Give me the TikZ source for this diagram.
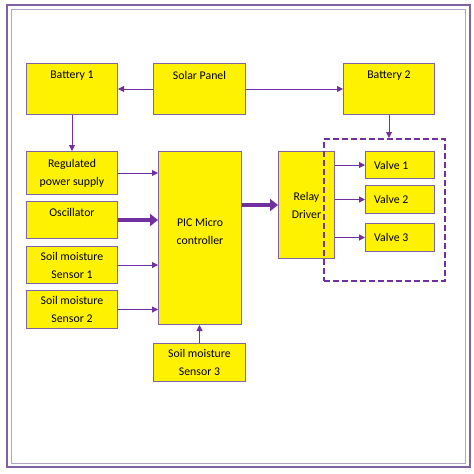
\documentclass[tikz,border=0pt]{standalone}
\usepackage{fontspec}
\setmainfont{Carlito}
\usetikzlibrary{arrows.meta}
\definecolor{boxedge}{HTML}{8064A2}
\definecolor{linepurple}{HTML}{7030A0}
\definecolor{framelight}{HTML}{B3A2C7}

\tikzset{
  blk/.style={draw=boxedge, fill=yellow, line width=1pt, anchor=north west, inner sep=0pt,
    align=center, font=\fontsize{11.8pt}{18pt}\selectfont},
  lbl/.style={inner sep=0pt, font=\fontsize{11.8pt}{18pt}\selectfont},
  con/.style={draw=linepurple, line width=1pt, -{Triangle[length=6pt,width=6pt]}},
  bigcon/.style={draw=linepurple, line width=4.5pt, -{Triangle[length=8pt,width=12pt]}},
  grpbox/.style={draw=linepurple, line width=1.6pt, dash pattern=on 6pt off 3pt, anchor=north west, inner sep=0pt},
}

\begin{document}
\begin{tikzpicture}[x=1pt,y=-1pt]
    \useasboundingbox (0,0) rectangle (474,474);
    %frame
    \draw[boxedge, line width=2pt] (7,5) rectangle (470,467);
    \draw[framelight, line width=1pt] (11,9) rectangle (465,463);

    %top row
    \node[blk, minimum width=91pt, minimum height=51pt, label={[lbl,anchor=north,yshift=-8pt]north:Battery 1}] (bat1) at (26,63) {};
    \node[blk, minimum width=92pt, minimum height=51pt, label={[lbl,anchor=north,yshift=-8pt]north:Solar Panel}] (solar) at (153,63) {};
    \node[blk, minimum width=91pt, minimum height=51pt, label={[lbl,anchor=north,yshift=-8pt]north:Battery 2}] (bat2) at (343,63) {};

    %inputs
    \node[blk, minimum width=91pt, minimum height=43pt] (reg) at (26,151) {Regulated\\power supply};
    \node[blk, minimum width=91pt, minimum height=37pt, label={[lbl,anchor=north,yshift=-7pt]north:Oscillator}] (osc) at (26,201) {};
    \node[blk, minimum width=91pt, minimum height=37pt] (sens1) at (26,246) {Soil moisture\\Sensor 1};
    \node[blk, minimum width=91pt, minimum height=38pt] (sens2) at (26,290) {Soil moisture\\Sensor 2};
    \node[blk, minimum width=92pt, minimum height=38pt] (sens3) at (153,343) {Soil moisture\\Sensor 3};

    %controller and outputs
    \node[blk, minimum width=83pt, minimum height=173pt, label={[lbl,align=center,yshift=7pt]center:PIC Micro\\controller}] (pic) at (158,151) {};
    \node[blk, minimum width=56pt, minimum height=107pt] (relay) at (278,151) {Relay\\Driver};
    \node[blk, minimum width=69pt, minimum height=27pt, label={[lbl,anchor=west,xshift=9pt]west:Valve 1}] (valve1) at (365,151) {};
    \node[blk, minimum width=69pt, minimum height=28pt, label={[lbl,anchor=west,xshift=9pt]west:Valve 2}] (valve2) at (365,185) {};
    \node[blk, minimum width=69pt, minimum height=28pt, label={[lbl,anchor=west,xshift=9pt]west:Valve 3}] (valve3) at (365,223) {};
    \node[grpbox, minimum width=121pt, minimum height=142pt] (valvegrp) at (323,138) {};

    %connections
    \draw[con] (solar) -- (bat1);
    \draw[con] (solar) -- (bat2);
    \draw[con] (bat1) -- (reg);
    \draw[con] (bat2) -- (bat2 |- valvegrp.north);
    \draw[con] (reg) -- (reg -| pic.west);
    \draw[bigcon] (osc) -- (osc -| pic.west);
    \draw[con] (sens1) -- (sens1 -| pic.west);
    \draw[con] (sens2) -- (sens2 -| pic.west);
    \draw[con] (sens3) -- (sens3 |- pic.south);
    \draw[bigcon] (pic.east |- relay.west) -- (relay.west);
    \draw[con] (relay.east |- valve1) -- (valve1);
    \draw[con] (relay.east |- valve2) -- (valve2);
    \draw[con] (relay.east |- valve3) -- (valve3);
\end{tikzpicture}
\end{document}
